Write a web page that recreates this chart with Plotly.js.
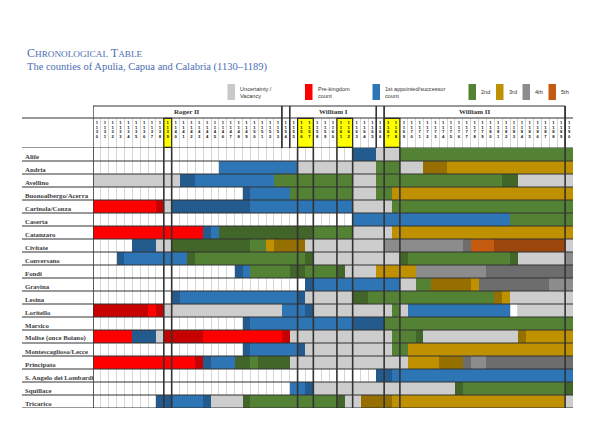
<!DOCTYPE html>
<html>
<head>
<meta charset="utf-8">
<script src="https://cdn.plot.ly/plotly-3.0.1.min.js"></script>
<style>
  html, body { margin: 0; padding: 0; background: #ffffff; }
  #chart { width: 600px; height: 424px; }
</style>
</head>
<body>
<div id="chart"></div>
<script>
// Counties, top to bottom
const counties = [
  'Alife', 'Andria', 'Avellino', 'Buonoalbergo/Acerra', 'Carinola/Conza', 'Caserta',
  'Catanzaro', 'Civitate', 'Conversano', 'Fondi', 'Gravina', 'Lesina', 'Loritello',
  'Marsico', 'Molise (once Boiano)', 'Montescaglioso/Lecce', 'Principato',
  'S. Angelo dei Lombardi', 'Squillace', 'Tricarico'
];

// Year columns of the table
const firstYear = 1130;
const lastYear = 1190;

// Reigns shown in the header band: [name, from, to]
const reigns = [
  ['Roger II', 1130, 1154], ['', 1154, 1155], ['William I', 1155, 1166],
  ['', 1166, 1167], ['William II', 1167, 1190]
];
// Highlighted year groups (yellow) and heavy divider years in the body
const highlightYears = [[1139, 1140], [1156, 1158], [1161, 1163], [1167, 1169]];
const dividerYears = [1130, 1139, 1140, 1156, 1158, 1161, 1163, 1167, 1169, 1190];

// Tenure segments: [county, from, to]; "Unsure" = uncertain boundary of that tenure
const preKingdom = [
  ['Carinola/Conza', 1130, 1138], ['Catanzaro', 1130, 1144], ['Loritello', 1137, 1138],
  ['Molise (once Boiano)', 1130, 1135], ['Molise (once Boiano)', 1144, 1154], ['Principato', 1130, 1143]
];
const preKingdomUnsure = [
  ['Carinola/Conza', 1138, 1139], ['Loritello', 1130, 1137], ['Loritello', 1138, 1139],
  ['Molise (once Boiano)', 1139, 1144], ['Molise (once Boiano)', 1154, 1155], ['Principato', 1143, 1144]
];
const firstCount = [
  ['Andria', 1146, 1156], ['Avellino', 1143, 1153], ['Buonoalbergo/Acerra', 1150, 1155],
  ['Carinola/Conza', 1150, 1163], ['Caserta', 1163, 1183], ['Catanzaro', 1145, 1146],
  ['Conversano', 1134, 1142], ['Fondi', 1149, 1150], ['Gravina', 1158, 1169],
  ['Lesina', 1141, 1156], ['Loritello', 1154, 1157], ['Loritello', 1170, 1183],
  ['Marsico', 1150, 1163], ['Montescaglioso/Lecce', 1150, 1156], ['Principato', 1145, 1148],
  ['S. Angelo dei Lombardi', 1168, 1191], ['Squillace', 1155, 1157], ['Tricarico', 1140, 1144]
];
const firstCountUnsure = [
  ['Alife', 1163, 1166], ['Avellino', 1141, 1143], ['Buonoalbergo/Acerra', 1149, 1150],
  ['Carinola/Conza', 1140, 1150], ['Catanzaro', 1144, 1145], ['Civitate', 1135, 1138],
  ['Conversano', 1133, 1134], ['Fondi', 1148, 1149], ['Gravina', 1157, 1158],
  ['Lesina', 1140, 1141], ['Lesina', 1156, 1157], ['Loritello', 1157, 1158],
  ['Marsico', 1149, 1150], ['Marsico', 1163, 1167], ['Molise (once Boiano)', 1135, 1138],
  ['Montescaglioso/Lecce', 1149, 1150], ['Montescaglioso/Lecce', 1156, 1157],
  ['Principato', 1144, 1145], ['S. Angelo dei Lombardi', 1166, 1168],
  ['Squillace', 1157, 1158], ['Tricarico', 1138, 1140], ['Tricarico', 1144, 1145]
];
const secondCount = [
  ['Alife', 1169, 1191], ['Andria', 1166, 1169], ['Avellino', 1153, 1163], ['Avellino', 1166, 1182],
  ['Buonoalbergo/Acerra', 1155, 1163], ['Buonoalbergo/Acerra', 1166, 1168],
  ['Carinola/Conza', 1168, 1191], ['Caserta', 1183, 1191], ['Catanzaro', 1158, 1163],
  ['Civitate', 1150, 1152], ['Conversano', 1143, 1157], ['Conversano', 1170, 1183],
  ['Fondi', 1150, 1155], ['Fondi', 1157, 1161], ['Gravina', 1171, 1173], ['Lesina', 1165, 1181],
  ['Loritello', 1168, 1169], ['Marsico', 1167, 1191], ['Molise (once Boiano)', 1168, 1171],
  ['Montescaglioso/Lecce', 1168, 1170], ['Principato', 1150, 1151], ['Squillace', 1177, 1190],
  ['Tricarico', 1150, 1161]
];
const secondCountUnsure = [
  ['Avellino', 1182, 1184], ['Catanzaro', 1146, 1158], ['Civitate', 1140, 1150],
  ['Conversano', 1142, 1143], ['Conversano', 1157, 1158], ['Conversano', 1169, 1170],
  ['Conversano', 1183, 1184], ['Fondi', 1155, 1157], ['Fondi', 1161, 1162], ['Lesina', 1163, 1165],
  ['Molise (once Boiano)', 1171, 1172], ['Principato', 1148, 1150], ['Principato', 1151, 1155],
  ['Squillace', 1176, 1177], ['Squillace', 1190, 1191], ['Tricarico', 1149, 1150], ['Tricarico', 1161, 1162]
];
const thirdCount = [
  ['Andria', 1175, 1191], ['Buonoalbergo/Acerra', 1168, 1191], ['Catanzaro', 1168, 1191],
  ['Civitate', 1152, 1153], ['Fondi', 1166, 1171], ['Gravina', 1178, 1179], ['Lesina', 1182, 1183],
  ['Molise (once Boiano)', 1185, 1191], ['Montescaglioso/Lecce', 1170, 1191],
  ['Principato', 1170, 1174], ['Tricarico', 1168, 1190]
];
const thirdCountUnsure = [
  ['Andria', 1172, 1175], ['Civitate', 1153, 1157], ['Gravina', 1173, 1178], ['Lesina', 1181, 1182],
  ['Molise (once Boiano)', 1184, 1185], ['Principato', 1174, 1177], ['Tricarico', 1164, 1168]
];
const fourthCount = [
  ['Civitate', 1167, 1177], ['Conversano', 1190, 1191], ['Fondi', 1171, 1180],
  ['Gravina', 1188, 1191], ['Principato', 1178, 1180]
];
const fourthCountUnsure = [
  ['Civitate', 1177, 1178], ['Fondi', 1180, 1191], ['Gravina', 1179, 1188],
  ['Principato', 1177, 1178], ['Principato', 1180, 1191]
];
const fifthCount = [['Civitate', 1178, 1181]];
const fifthCountUnsure = [['Civitate', 1181, 1190]];
const vacancy = [
  ['Alife', 1166, 1169], ['Andria', 1156, 1166], ['Andria', 1169, 1172],
  ['Avellino', 1130, 1141], ['Avellino', 1163, 1166], ['Avellino', 1184, 1191],
  ['Buonoalbergo/Acerra', 1163, 1166], ['Carinola/Conza', 1139, 1140], ['Carinola/Conza', 1163, 1168],
  ['Catanzaro', 1163, 1168], ['Civitate', 1138, 1140], ['Civitate', 1157, 1167], ['Civitate', 1190, 1191],
  ['Conversano', 1158, 1169], ['Conversano', 1184, 1190], ['Fondi', 1162, 1166], ['Gravina', 1169, 1171],
  ['Lesina', 1157, 1163], ['Lesina', 1183, 1191], ['Loritello', 1139, 1154], ['Loritello', 1158, 1168],
  ['Loritello', 1169, 1170], ['Loritello', 1184, 1191], ['Molise (once Boiano)', 1138, 1139],
  ['Molise (once Boiano)', 1155, 1168], ['Molise (once Boiano)', 1172, 1184],
  ['Montescaglioso/Lecce', 1157, 1168], ['Principato', 1155, 1170], ['Squillace', 1158, 1176],
  ['Tricarico', 1145, 1149], ['Tricarico', 1162, 1164], ['Tricarico', 1190, 1191]
];

// Colours
const RED = '#ff0000', BLUE = '#2e75b6', GREEN = '#548235', GOLD = '#bf9000',
      GREY = '#8c8c8c', ORANGE = '#c55a11', VACANT = '#c9c9c9';

// Figure geometry (pixels)
const W = 600, H = 424, ML = 93, MR = 27, MT = 106, MB = 16;
const plotW = W - ML - MR, plotH = H - MT - MB;
const bodyTop = 148;
const bodySplit = (H - MB - bodyTop) / plotH;
const px = x => (x - ML) / plotW;          // pixel x -> paper x
const py = y => (H - MB - y) / plotH;      // pixel y -> paper y
const LINE = '#333333';

const solidMarker = c => ({ color: c, line: { width: 0 } });
const unsureMarker = c => ({
  color: c, line: { width: 0 },
  pattern: { shape: '.', fillmode: 'overlay', fgcolor: '#000000', fgopacity: 0.5, size: 2, solidity: 0.5 }
});
const vacancyMarker = {
  color: '#9a9a9a', line: { width: 0 },
  pattern: { shape: '.', fillmode: 'replace', bgcolor: '#f6f6f6', size: 2, solidity: 0.5 }
};

function bars(segs, marker) {
  return {
    type: 'bar', orientation: 'h', xaxis: 'x', yaxis: 'y',
    y: segs.map(s => s[0]), base: segs.map(s => s[1]), x: segs.map(s => s[2] - s[1]),
    width: 1, marker: marker, hoverinfo: 'skip', showlegend: false
  };
}

const traces = [
  bars(vacancy, vacancyMarker),
  bars(preKingdom, solidMarker(RED)), bars(preKingdomUnsure, unsureMarker(RED)),
  bars(firstCount, solidMarker(BLUE)), bars(firstCountUnsure, unsureMarker(BLUE)),
  bars(secondCount, solidMarker(GREEN)), bars(secondCountUnsure, unsureMarker(GREEN)),
  bars(thirdCount, solidMarker(GOLD)), bars(thirdCountUnsure, unsureMarker(GOLD)),
  bars(fourthCount, solidMarker(GREY)), bars(fourthCountUnsure, unsureMarker(GREY)),
  bars(fifthCount, solidMarker(ORANGE)), bars(fifthCountUnsure, unsureMarker(ORANGE))
];

// Year digits written vertically in the header (y2 units = pixels above the body)
const digitRows = [24.6, 20.2, 15.8, 11.4];
const dx = [], dy = [], dt = [];
for (let yr = firstYear; yr <= lastYear; yr++) {
  const s = String(yr);
  for (let k = 0; k < 4; k++) { dx.push(yr + 0.5); dy.push(digitRows[k]); dt.push(s[k]); }
}
traces.push({
  type: 'scatter', mode: 'text', xaxis: 'x', yaxis: 'y2', x: dx, y: dy, text: dt,
  textposition: 'middle center',
  textfont: { family: 'Liberation Sans', size: 4.2, color: '#111111', weight: 'bold' },
  cliponaxis: false, hoverinfo: 'skip', showlegend: false
});

const shapes = [];
const annotations = [];

// Cover the reign band so year rules only show in the digit band
shapes.push({ type: 'rect', xref: 'x', yref: 'y2', x0: firstYear, x1: lastYear + 1, y0: 30, y1: 42,
  fillcolor: '#ffffff', line: { width: 0 }, layer: 'between' });

// Header horizontal rules
shapes.push({ type: 'line', xref: 'paper', yref: 'paper', x0: 0, x1: (lastYear - firstYear) / (lastYear + 1 - firstYear),
  y0: 1, y1: 1, line: { color: LINE, width: 1.2 }, layer: 'above' });
shapes.push({ type: 'line', xref: 'paper', yref: 'y2', x0: px(22), x1: 1, y0: 30, y1: 30,
  line: { color: LINE, width: 1.2 }, layer: 'above' });
shapes.push({ type: 'line', xref: 'paper', yref: 'y2', x0: px(22), x1: 1, y0: 0, y1: 0,
  line: { color: LINE, width: 1.2 }, layer: 'above' });

// Reign boxes
reigns.forEach(r => {
  [r[1], r[2]].forEach(x => shapes.push({ type: 'line', xref: 'x', yref: 'y2', x0: x, x1: x, y0: 0, y1: 42,
    line: { color: LINE, width: 1.3 }, layer: 'above' }));
  if (r[0]) annotations.push({ xref: 'x', yref: 'y2', x: (r[1] + r[2]) / 2, y: 36, text: '<b>' + r[0] + '</b>',
    showarrow: false, font: { family: 'Liberation Serif', size: 7, color: '#333333' } });
});

// Highlighted year groups
highlightYears.forEach(h => shapes.push({ type: 'rect', xref: 'x', yref: 'y2', x0: h[0], x1: h[1], y0: 0.6, y1: 29.6,
  fillcolor: '#ffff00', line: { color: '#222222', width: 1.2 }, layer: 'between' }));

// Heavy year dividers through the body
dividerYears.forEach(x => shapes.push({ type: 'line', xref: 'x', yref: 'y', x0: x, x1: x, y0: -0.5, y1: counties.length - 0.5,
  line: { color: LINE, width: 1.6 }, layer: 'above' }));
shapes.push({ type: 'line', xref: 'x', yref: 'y2', x0: lastYear, x1: lastYear, y0: 0, y1: 42,
  line: { color: LINE, width: 1.6 }, layer: 'above' });

// Row rules and county names
counties.forEach((c, i) => {
  shapes.push({ type: 'line', xref: 'paper', yref: 'y', x0: px(22), x1: 1, y0: i + 0.5, y1: i + 0.5,
    line: { color: LINE, width: 1.2 }, layer: 'above' });
  annotations.push({ xref: 'paper', yref: 'y', x: px(22.5), y: i + 0.5, xanchor: 'left', yanchor: 'bottom',
    yshift: -1, text: '<b>' + c + '</b>', showarrow: false,
    font: { family: 'Liberation Serif', size: 6.8, color: '#404040' } });
});

// Title
annotations.push({ xref: 'paper', yref: 'paper', x: px(25), y: py(53), xanchor: 'left', yanchor: 'middle',
  text: 'C<span style="font-size:9.2px">HRONOLOGICAL</span> T<span style="font-size:9.2px">ABLE</span>',
  showarrow: false, font: { family: 'Liberation Serif', size: 12, color: '#4a6db3' } });
annotations.push({ xref: 'paper', yref: 'paper', x: px(25), y: py(67), xanchor: 'left', yanchor: 'middle',
  text: 'The counties of Apulia, Capua and Calabria (1130–1189)',
  showarrow: false, font: { family: 'Liberation Serif', size: 10.5, color: '#4a6db3' } });

// Key
const keyItems = [
  [227.5, VACANT, 'Uncertainty /<br>Vacancy'],
  [305, RED, 'Pre-kingdom<br>count'],
  [372.5, BLUE, '1st appointed/successor<br>count'],
  [468.5, GREEN, '2nd'],
  [496, GOLD, '3rd'],
  [522.5, GREY, '4th'],
  [548.5, ORANGE, '5th']
];
keyItems.forEach(k => {
  shapes.push({ type: 'rect', xref: 'paper', yref: 'paper', x0: px(k[0]), x1: px(k[0] + 7.5), y0: py(100), y1: py(84),
    fillcolor: k[1], line: { width: 0 } });
  annotations.push({ xref: 'paper', yref: 'paper', x: px(k[0] + 10.5), y: py(92), xanchor: 'left', yanchor: 'middle',
    align: 'left', text: k[2], showarrow: false,
    font: { family: 'Liberation Sans', size: 5.6, color: '#333333' } });
});

const layout = {
  width: W, height: H,
  margin: { l: ML, r: MR, t: MT, b: MB, pad: 0 },
  paper_bgcolor: '#ffffff', plot_bgcolor: '#ffffff',
  barmode: 'overlay', bargap: 0, showlegend: false,
  xaxis: { range: [firstYear, lastYear + 1], tick0: firstYear, dtick: 1, showgrid: true,
    gridcolor: '#d6d6d6', gridwidth: 1, showticklabels: false, ticks: '', zeroline: false,
    showline: false, fixedrange: true },
  yaxis: { domain: [0, bodySplit], type: 'category', categoryorder: 'array', categoryarray: counties,
    range: [counties.length - 0.5, -0.5], showgrid: false, showticklabels: false, ticks: '',
    zeroline: false, showline: false, fixedrange: true },
  yaxis2: { domain: [bodySplit, 1], range: [0, 42], showgrid: false, showticklabels: false, ticks: '',
    zeroline: false, showline: false, fixedrange: true },
  shapes: shapes,
  annotations: annotations
};

Plotly.newPlot('chart', traces, layout, { displayModeBar: false, staticPlot: true });
</script>
</body>
</html>
